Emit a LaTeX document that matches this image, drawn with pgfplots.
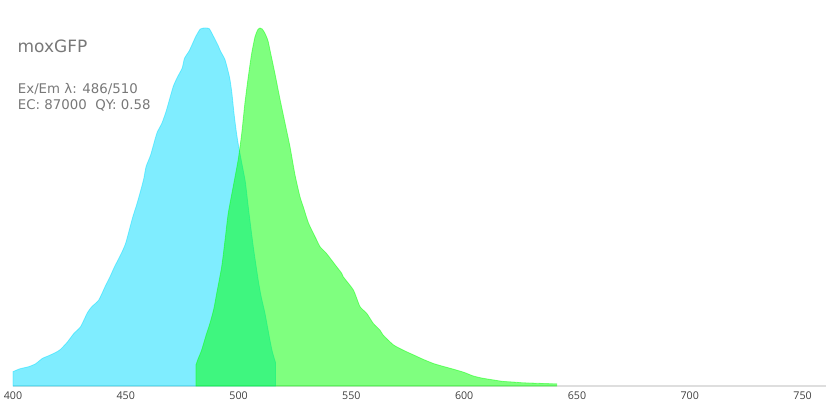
\documentclass[border=0pt]{standalone}
\usepackage{pgfplots}
\pgfplotsset{compat=1.18}
\usepackage{fontspec}
\setmainfont{DejaVu Sans}
\newfontfamily\tickfont{Open Sans}
\definecolor{exc}{RGB}{0,220,255}
\definecolor{emi}{RGB}{0,255,0}
\definecolor{txt}{RGB}{120,120,120}

\begin{document}
\begin{tikzpicture}
\begin{axis}[
  name=ax,
  scale only axis,
  width=609.75pt, height=268.5pt,
  xmin=400, xmax=760.4,
  ymin=0, ymax=1,
  hide y axis,
  axis x line*=bottom,
  x axis line style={draw=black!13, line width=1.2pt, -},
  xtick={400,450,...,750},
  major tick length=0pt,
  xticklabel style={font=\fontsize{8}{9}\selectfont\tickfont, text=black!75, yshift=-0.5pt},
  /pgf/number format/assume math mode=true,
  clip=false,
]
% excitation
\addplot[smooth, tension=0.35, draw=exc, draw opacity=0.45, line width=0.6pt, fill=exc, fill opacity=0.5] coordinates {
(400,0.04) (403,0.048) (407,0.054) (410,0.062) (413,0.077) (416,0.085) (419,0.094)
(421,0.102) (424,0.122) (427,0.147) (430,0.166) (433,0.205) (435,0.222) (438,0.240)
(441,0.28) (443,0.305) (445,0.333) (448,0.37) (450,0.40) (453,0.47) (455,0.51)
(457,0.555) (458,0.58) (459,0.613) (461,0.645) (463,0.69) (464,0.71) (466,0.734)
(468,0.77) (471,0.836) (473,0.864) (475,0.888) (476,0.915) (478,0.935) (479,0.948)
(481,0.976) (483,0.997) (485,1.0) (487,0.998) (489,0.975) (491,0.95) (492,0.935)
(494,0.911) (496,0.862) (497,0.82) (498,0.76) (499,0.71) (500,0.67) (501.5,0.62)
(503,0.57) (504.3,0.50) (506.5,0.39) (508.7,0.296) (510,0.25) (511.7,0.203)
(513.9,0.128) (515,0.095) (516.4,0.065)
} \closedcycle;
% emission
\addplot[smooth, tension=0.35, draw=emi, draw opacity=0.45, line width=0.6pt, fill=emi, fill opacity=0.5] coordinates {
(481.1,0.059) (482,0.075) (483.6,0.10) (485.5,0.14) (487.3,0.175) (489,0.215)
(490.3,0.259) (492.5,0.333) (494,0.408) (495.4,0.482) (497.7,0.56) (499.9,0.635)
(501.4,0.706) (502.8,0.79) (504.3,0.864) (505.8,0.929) (507.3,0.976) (508.5,0.995)
(509.5,1.0) (510.5,0.997) (511.7,0.985) (513,0.965) (513.9,0.939) (516.1,0.873)
(518.4,0.80) (520.6,0.734) (522.8,0.668) (525,0.59) (527.2,0.529) (528.7,0.50)
(531,0.455) (534.6,0.408) (536.1,0.389) (539,0.37) (543.5,0.333) (545.7,0.315)
(546.4,0.305) (550.9,0.268) (553.8,0.222) (556.8,0.203) (559.7,0.175) (562.7,0.156)
(564.1,0.142) (568.6,0.115) (573,0.100) (577.5,0.087) (582,0.074) (586.3,0.063)
(590,0.056) (595.2,0.047) (600,0.038) (604,0.028) (608,0.022) (612.9,0.017)
(617,0.013) (621.8,0.011) (626,0.009) (630.6,0.008) (635,0.007) (641,0.006)
} \closedcycle;
\node[anchor=base west, inner sep=0pt, text=txt, font=\fontsize{12.75}{15}\selectfont]
  at ([xshift=3.25pt, yshift=-18.5pt]rel axis cs:0,1) {moxGFP};
\node[anchor=base west, inner sep=0pt, text=txt, font=\fontsize{10}{12}\selectfont]
  at ([xshift=3.5pt, yshift=-49.5pt]rel axis cs:0,1) {Ex/Em λ: 486/510};
\node[anchor=base west, inner sep=0pt, text=txt, font=\fontsize{10}{12}\selectfont]
  at ([xshift=3.5pt, yshift=-61pt]rel axis cs:0,1) {EC: 87000\ \ QY: 0.58};
\end{axis}
\pgfresetboundingbox
\path ([xshift=-9.75pt, yshift=-25.5pt]ax.south west) rectangle ([xshift=10.5pt, yshift=21pt]ax.north east);
\end{tikzpicture}
\end{document}
